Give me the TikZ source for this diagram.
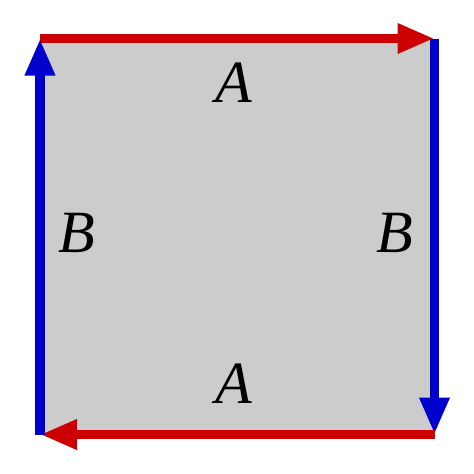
\documentclass[tikz,border=0pt]{standalone}
\usepackage{fontspec}
\setmainfont{Liberation Serif}
\usetikzlibrary{arrows.meta}
\definecolor{sqgray}{HTML}{CCCCCC}
\definecolor{edgered}{HTML}{CC0000}
\definecolor{edgeblue}{HTML}{0000CC}
\tikzset{
  edge/.style={line width=9.5pt, -{Triangle[length=37pt,width=28pt]}},
  lab/.style={inner sep=0pt, anchor=base, font=\fontsize{60}{62}\selectfont\itshape}
}
\begin{document}
\begin{tikzpicture}[x=1pt,y=-1pt]
\useasboundingbox (0,0) rectangle (474,474);
\coordinate (tl) at (40,38.5);
\coordinate (tr) at (434.5,38.5);
\coordinate (br) at (434.5,434.5);
\coordinate (bl) at (40,434.5);
\fill[sqgray] (tl) rectangle (br);
\draw[edge, edgered] (tl) -- (tr);
\draw[edge, edgeblue] (tr) -- (br);
\draw[edge, edgered] (br) -- (bl);
\draw[edge, edgeblue] (bl) -- (tl);
\node[lab] (atop) at (234,102) {A};
\node[lab] (abot) at (234,403) {A};
\node[lab] (bleft) at (77,252) {B};
\node[lab] (bright) at (395,252) {B};
\end{tikzpicture}
\end{document}
